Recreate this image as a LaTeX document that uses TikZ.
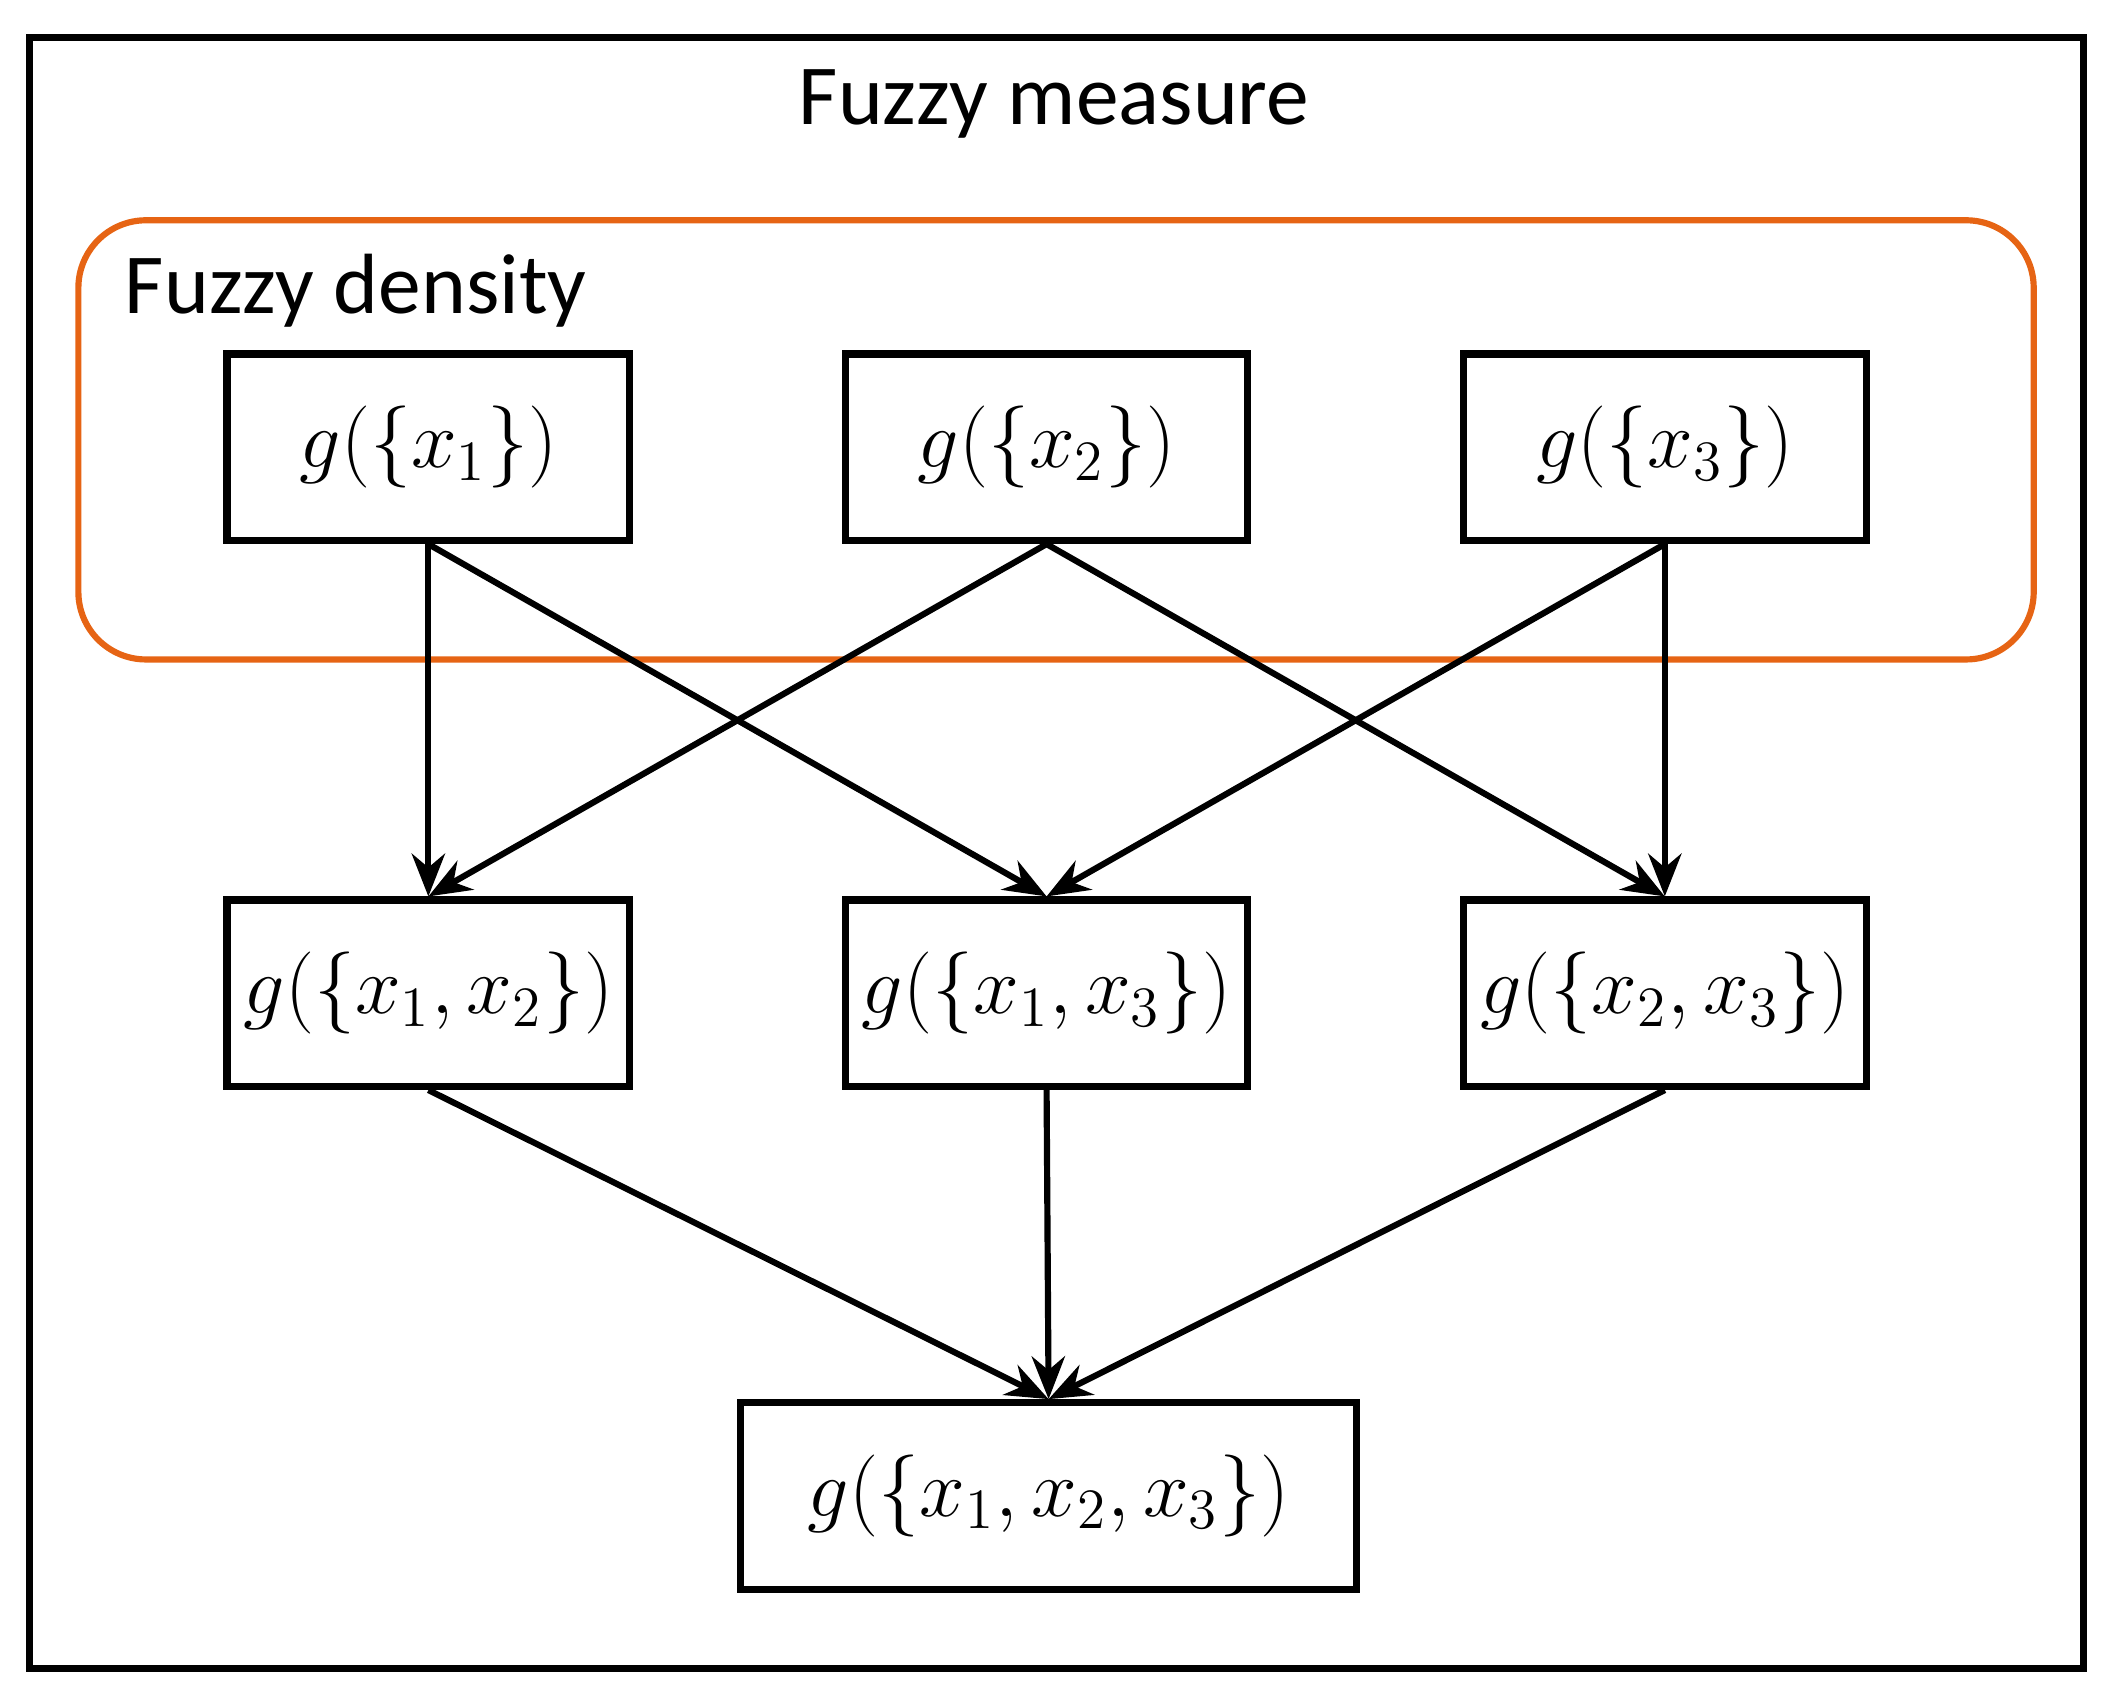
\documentclass[tikz,border=0pt]{standalone}
\usepackage{fontspec}
\setmainfont{Carlito}
\usetikzlibrary{arrows.meta}
\begin{document}
\begin{tikzpicture}[x=1cm,y=-1cm]
    \tikzset{boxstyle/.style={draw,line width=1.5pt,minimum width=2.98cm,minimum height=1.38cm,inner sep=0pt,font=\fontsize{17}{20}\selectfont},
             edgestyle/.style={-{Stealth[length=9pt,width=7pt]},line width=1.3pt}}
    \useasboundingbox (0,0) rectangle (15.6,12.52);
    \draw[line width=1.5pt] (0.22,0.28) rectangle (15.42,12.35);
    \node (fm) at (7.8,0.77) {\fontsize{18}{21}\selectfont Fuzzy measure};
    \draw[line width=1.3pt,color={rgb,255:red,230;green,100;blue,20},rounded corners=0.5cm] (0.58,1.63) rectangle (15.05,4.88);
    \node[anchor=west] (fd) at (0.8,2.15) {\fontsize{18}{21}\selectfont Fuzzy density};

    \node[boxstyle] (a1) at (3.17,3.31) {$g(\{x_1\})$};
    \node[boxstyle] (a2) at (7.745,3.31) {$g(\{x_2\})$};
    \node[boxstyle] (a3) at (12.32,3.31) {$g(\{x_3\})$};

    \node[boxstyle] (b1) at (3.17,7.35) {$g(\{x_1,x_2\})$};
    \node[boxstyle] (b2) at (7.745,7.35) {$g(\{x_1,x_3\})$};
    \node[boxstyle] (b3) at (12.32,7.35) {$g(\{x_2,x_3\})$};

    \node[boxstyle,minimum width=4.56cm] (c) at (7.76,11.07) {$g(\{x_1,x_2,x_3\})$};

    \begin{scope}[every path/.style={edgestyle}]
        \draw (a1.south) -- (b1.north);
        \draw (a1.south) -- (b2.north);
        \draw (a2.south) -- (b1.north);
        \draw (a2.south) -- (b3.north);
        \draw (a3.south) -- (b2.north);
        \draw (a3.south) -- (b3.north);
        \draw (b1.south) -- (c.north);
        \draw (b2.south) -- (c.north);
        \draw (b3.south) -- (c.north);
    \end{scope}
\end{tikzpicture}
\end{document}
